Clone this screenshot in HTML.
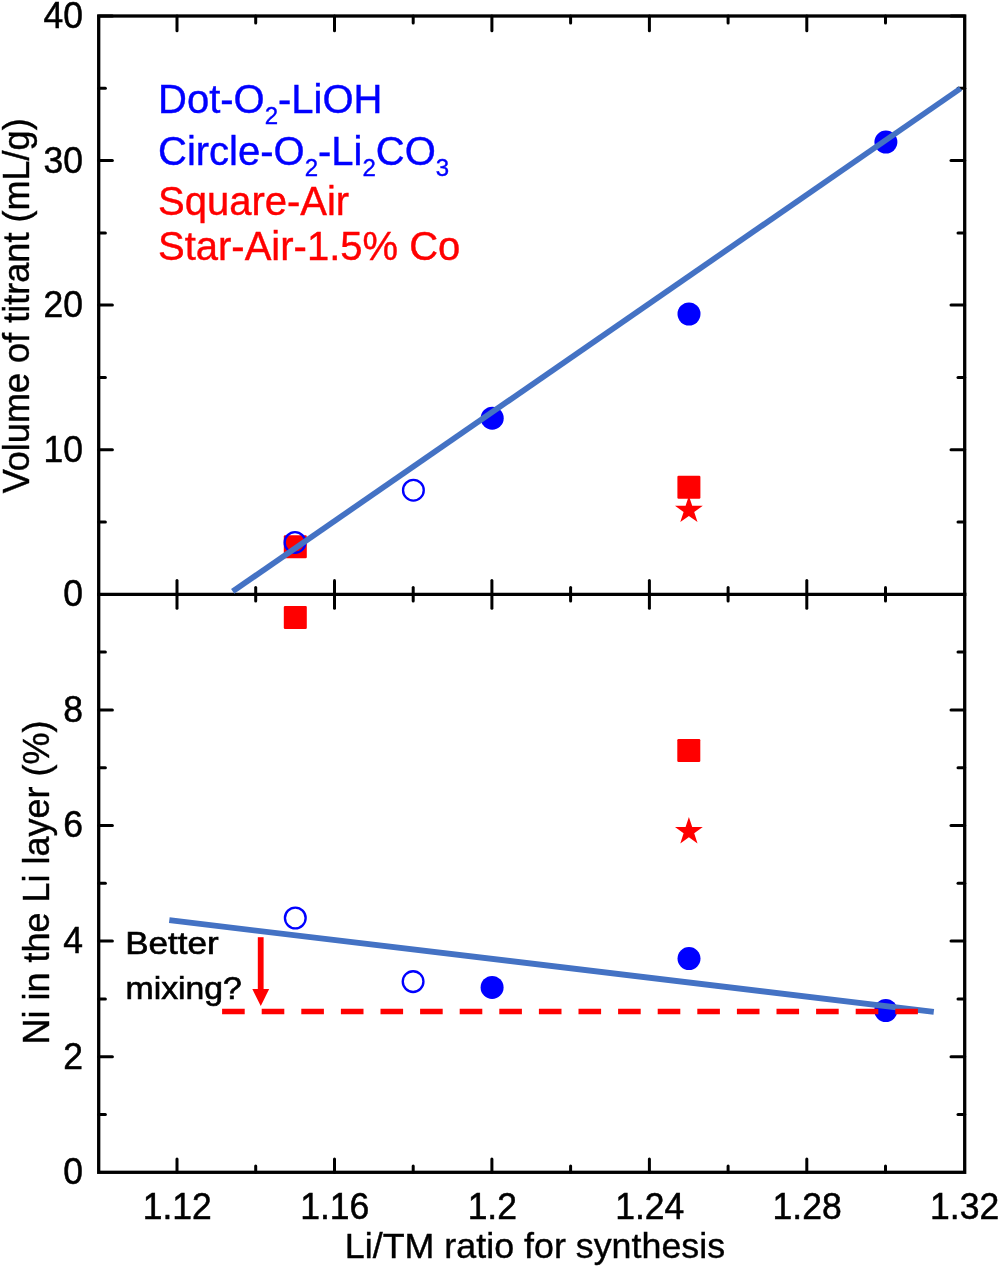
<!DOCTYPE html>
<html lang="en"><head><meta charset="utf-8"><title>Chart</title>
<style>html,body{margin:0;padding:0;background:#fff}svg{display:block}text{font-family:"Liberation Sans",sans-serif}</style></head><body>
<svg width="1000" height="1269" viewBox="0 0 1000 1269">
<rect width="1000" height="1269" fill="#fff"/>
<g stroke="#000" stroke-width="3.0" stroke-linecap="round" fill="none">
<line x1="177.0" y1="16.0" x2="177.0" y2="30.8"/>
<line x1="177.0" y1="580.4" x2="177.0" y2="608.2"/>
<line x1="177.0" y1="1172.3" x2="177.0" y2="1159.1"/>
<line x1="255.7" y1="16.0" x2="255.7" y2="23.1"/>
<line x1="255.7" y1="587.6" x2="255.7" y2="601.0"/>
<line x1="255.7" y1="1172.3" x2="255.7" y2="1165.9"/>
<line x1="334.5" y1="16.0" x2="334.5" y2="30.8"/>
<line x1="334.5" y1="580.4" x2="334.5" y2="608.2"/>
<line x1="334.5" y1="1172.3" x2="334.5" y2="1159.1"/>
<line x1="413.2" y1="16.0" x2="413.2" y2="23.1"/>
<line x1="413.2" y1="587.6" x2="413.2" y2="601.0"/>
<line x1="413.2" y1="1172.3" x2="413.2" y2="1165.9"/>
<line x1="491.9" y1="16.0" x2="491.9" y2="30.8"/>
<line x1="491.9" y1="580.4" x2="491.9" y2="608.2"/>
<line x1="491.9" y1="1172.3" x2="491.9" y2="1159.1"/>
<line x1="570.6" y1="16.0" x2="570.6" y2="23.1"/>
<line x1="570.6" y1="587.6" x2="570.6" y2="601.0"/>
<line x1="570.6" y1="1172.3" x2="570.6" y2="1165.9"/>
<line x1="649.4" y1="16.0" x2="649.4" y2="30.8"/>
<line x1="649.4" y1="580.4" x2="649.4" y2="608.2"/>
<line x1="649.4" y1="1172.3" x2="649.4" y2="1159.1"/>
<line x1="728.1" y1="16.0" x2="728.1" y2="23.1"/>
<line x1="728.1" y1="587.6" x2="728.1" y2="601.0"/>
<line x1="728.1" y1="1172.3" x2="728.1" y2="1165.9"/>
<line x1="806.8" y1="16.0" x2="806.8" y2="30.8"/>
<line x1="806.8" y1="580.4" x2="806.8" y2="608.2"/>
<line x1="806.8" y1="1172.3" x2="806.8" y2="1159.1"/>
<line x1="885.5" y1="16.0" x2="885.5" y2="23.1"/>
<line x1="885.5" y1="587.6" x2="885.5" y2="601.0"/>
<line x1="885.5" y1="1172.3" x2="885.5" y2="1165.9"/>
<line x1="98.7" y1="522.0" x2="105.4" y2="522.0"/>
<line x1="964.7" y1="522.0" x2="958.0" y2="522.0"/>
<line x1="98.7" y1="449.7" x2="112.4" y2="449.7"/>
<line x1="964.7" y1="449.7" x2="951.0" y2="449.7"/>
<line x1="98.7" y1="377.4" x2="105.4" y2="377.4"/>
<line x1="964.7" y1="377.4" x2="958.0" y2="377.4"/>
<line x1="98.7" y1="305.1" x2="112.4" y2="305.1"/>
<line x1="964.7" y1="305.1" x2="951.0" y2="305.1"/>
<line x1="98.7" y1="232.9" x2="105.4" y2="232.9"/>
<line x1="964.7" y1="232.9" x2="958.0" y2="232.9"/>
<line x1="98.7" y1="160.6" x2="112.4" y2="160.6"/>
<line x1="964.7" y1="160.6" x2="951.0" y2="160.6"/>
<line x1="98.7" y1="88.3" x2="105.4" y2="88.3"/>
<line x1="964.7" y1="88.3" x2="958.0" y2="88.3"/>
<line x1="98.7" y1="16.0" x2="112.4" y2="16.0"/>
<line x1="964.7" y1="16.0" x2="951.0" y2="16.0"/>
<line x1="98.7" y1="1114.5" x2="105.4" y2="1114.5"/>
<line x1="964.7" y1="1114.5" x2="958.0" y2="1114.5"/>
<line x1="98.7" y1="1056.7" x2="112.4" y2="1056.7"/>
<line x1="964.7" y1="1056.7" x2="951.0" y2="1056.7"/>
<line x1="98.7" y1="998.9" x2="105.4" y2="998.9"/>
<line x1="964.7" y1="998.9" x2="958.0" y2="998.9"/>
<line x1="98.7" y1="941.1" x2="112.4" y2="941.1"/>
<line x1="964.7" y1="941.1" x2="951.0" y2="941.1"/>
<line x1="98.7" y1="883.3" x2="105.4" y2="883.3"/>
<line x1="964.7" y1="883.3" x2="958.0" y2="883.3"/>
<line x1="98.7" y1="825.5" x2="112.4" y2="825.5"/>
<line x1="964.7" y1="825.5" x2="951.0" y2="825.5"/>
<line x1="98.7" y1="767.7" x2="105.4" y2="767.7"/>
<line x1="964.7" y1="767.7" x2="958.0" y2="767.7"/>
<line x1="98.7" y1="709.9" x2="112.4" y2="709.9"/>
<line x1="964.7" y1="709.9" x2="951.0" y2="709.9"/>
<line x1="98.7" y1="652.1" x2="105.4" y2="652.1"/>
<line x1="964.7" y1="652.1" x2="958.0" y2="652.1"/>
</g>
<g stroke="#000" stroke-width="3.3" fill="none" stroke-linecap="square">
<rect x="98.7" y="16.0" width="866.0" height="1156.3"/>
<line x1="98.7" y1="594.3" x2="964.7" y2="594.3"/>
</g>
<g font-size="35.5" fill="#000" stroke="#000" stroke-width="0.5" text-anchor="end">
<text transform="translate(83.1,606.2) scale(1,1.065)">0</text>
<text transform="translate(83.1,461.6) scale(1,1.065)">10</text>
<text transform="translate(83.1,317.0) scale(1,1.065)">20</text>
<text transform="translate(83.1,172.5) scale(1,1.065)">30</text>
<text transform="translate(83.1,27.9) scale(1,1.065)">40</text>
<text transform="translate(83.1,1184.2) scale(1,1.065)">0</text>
<text transform="translate(83.1,1068.6) scale(1,1.065)">2</text>
<text transform="translate(83.1,953.0) scale(1,1.065)">4</text>
<text transform="translate(83.1,837.4) scale(1,1.065)">6</text>
<text transform="translate(83.1,721.8) scale(1,1.065)">8</text>
</g>
<g font-size="35.5" fill="#000" stroke="#000" stroke-width="0.5" text-anchor="middle">
<text transform="translate(177.3,1219) scale(1,1.05)">1.12</text>
<text transform="translate(334.8,1219) scale(1,1.05)">1.16</text>
<text transform="translate(492.3,1219) scale(1,1.05)">1.2</text>
<text transform="translate(649.7,1219) scale(1,1.05)">1.24</text>
<text transform="translate(807.1,1219) scale(1,1.05)">1.28</text>
<text transform="translate(964.6,1219) scale(1,1.05)">1.32</text>
</g>
<text x="535.0" y="1258.3" font-size="35.85" text-anchor="middle" fill="#000" stroke="#000" stroke-width="0.4">Li/TM ratio for synthesis</text>
<text transform="translate(28.6,305.8) rotate(-90)" font-size="36.1" text-anchor="middle" fill="#000" stroke="#000" stroke-width="0.4">Volume of titrant (mL/g)</text>
<text transform="translate(48.7,882.5) rotate(-90)" font-size="36.0" text-anchor="middle" fill="#000" stroke="#000" stroke-width="0.4">Ni in the Li layer (%)</text>
<g font-size="40">
<text x="158" y="113" fill="#0000ff" stroke="#0000ff" stroke-width="0.4">Dot-O<tspan font-size="24" dy="11">2</tspan><tspan dy="-11">-LiOH</tspan></text>
<text x="158" y="164.5" fill="#0000ff" stroke="#0000ff" stroke-width="0.4">Circle-O<tspan font-size="24" dy="11">2</tspan><tspan dy="-11">-Li</tspan><tspan font-size="24" dy="11">2</tspan><tspan dy="-11">CO</tspan><tspan font-size="24" dy="11">3</tspan></text>
<text x="158" y="215.4" fill="#ff0000" stroke="#ff0000" stroke-width="0.4">Square-Air</text>
<text x="158" y="260" fill="#ff0000" stroke="#ff0000" stroke-width="0.4">Star-Air-1.5% Co</text>
</g>
<polygon points="688.9,495.7 692.2,505.8 702.8,505.8 694.2,512.0 697.5,522.1 688.9,515.9 680.3,522.1 683.6,512.0 675.0,505.8 685.6,505.8" fill="#ff0000"/>
<rect x="677.4" y="475.7" width="23" height="23" rx="1.2" fill="#ff0000"/>
<rect x="283.8" y="535.3" width="23" height="23" rx="1.2" fill="#ff0000"/>
<circle cx="295.0" cy="542.4" r="10.35" fill="none" stroke="#0000ff" stroke-width="2.35"/>
<circle cx="413.4" cy="490.2" r="10.35" fill="none" stroke="#0000ff" stroke-width="2.35"/>
<circle cx="492.2" cy="418.2" r="11.5" fill="#0000ff"/>
<circle cx="689.0" cy="314.0" r="11.5" fill="#0000ff"/>
<circle cx="885.9" cy="142.1" r="11.5" fill="#0000ff"/>
<line x1="232.7" y1="591.4" x2="960.5" y2="88.5" stroke="#4472c4" stroke-width="5.7"/>
<rect x="283.8" y="605.9" width="23" height="23" rx="1.2" fill="#ff0000"/>
<rect x="677.3" y="739.0" width="23" height="23" rx="1.2" fill="#ff0000"/>
<polygon points="688.9,817.0 692.2,827.1 702.8,827.1 694.2,833.3 697.5,843.4 688.9,837.2 680.3,843.4 683.6,833.3 675.0,827.1 685.6,827.1" fill="#ff0000"/>
<circle cx="295.3" cy="918.0" r="10.35" fill="none" stroke="#0000ff" stroke-width="2.35"/>
<circle cx="413.1" cy="981.6" r="10.35" fill="none" stroke="#0000ff" stroke-width="2.35"/>
<circle cx="492.1" cy="987.4" r="11.5" fill="#0000ff"/>
<circle cx="689.0" cy="958.6" r="11.5" fill="#0000ff"/>
<circle cx="885.8" cy="1010.5" r="11.5" fill="#0000ff"/>
<line x1="169.3" y1="920.2" x2="933.8" y2="1011.8" stroke="#4472c4" stroke-width="5.8"/>
<line x1="222.1" y1="1011.6" x2="918.0" y2="1011.6" stroke="#ff0000" stroke-width="5.5" stroke-dasharray="22.6 17"/>
<line x1="260.7" y1="937.2" x2="260.7" y2="992" stroke="#ff0000" stroke-width="5.8"/>
<polygon points="252.3,989.0 269.2,989.0 260.75,1005.9" fill="#ff0000"/>
<g font-size="32" fill="#000" stroke="#000" stroke-width="0.65">
<text x="125.2" y="954.3" textLength="93.5" lengthAdjust="spacingAndGlyphs">Better</text>
<text x="125.6" y="999" textLength="116.3" lengthAdjust="spacingAndGlyphs">mixing?</text>
</g>
</svg></body></html>
